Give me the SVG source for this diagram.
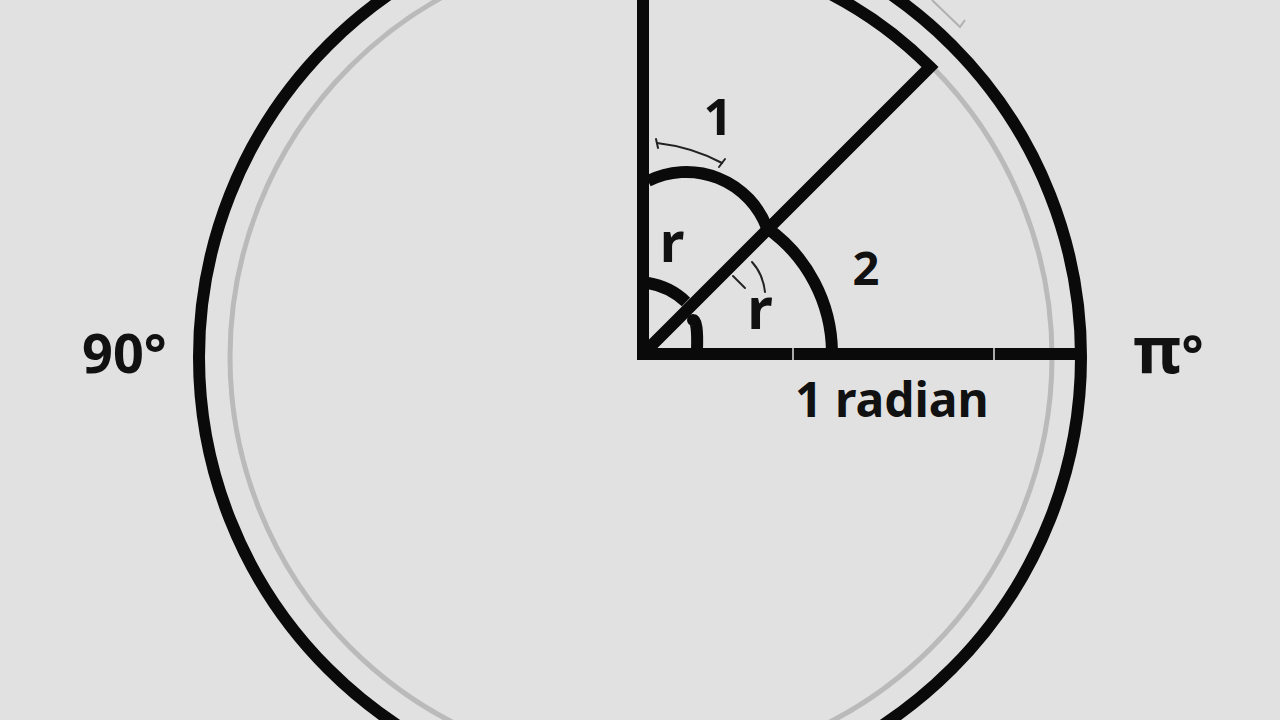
<svg xmlns="http://www.w3.org/2000/svg" width="1280" height="720" viewBox="0 0 1280 720">
<style>
.lbl{font-family:"Noto Sans","Open Sans","DejaVu Sans",sans-serif;font-weight:700;fill:#111;}
.thick{fill:none;stroke:#0a0a0a;stroke-width:12;}
.thin{fill:none;stroke:#222;stroke-width:2;stroke-linecap:round;}
</style>
<rect width="1280" height="720" fill="#e1e1e1"/>
<g id="gray-circle">
<circle cx="641" cy="357" r="411" fill="none" stroke="#bababa" stroke-width="5"/>
<polyline points="932,0 960,27 965,20" fill="none" stroke="#b0b0b0" stroke-width="2"/>
</g>
<g id="outer-circle">
<circle cx="640" cy="357" r="441" class="thick" stroke-width="13"/>
</g>
<g id="sector">
<path d="M643,354 L930,67 A406 406 0 0 0 643,-52 L643,354" class="thick" stroke-linejoin="miter"/>
<path d="M637,354 L1082,354" class="thick"/>
<path d="M793,347 L793,361 M994,347 L994,361" stroke="#e1e1e1" stroke-width="1.5"/>
</g>
<g id="arcs">
<path d="M648,181 A86 86 0 0 1 767,228" class="thick" stroke-width="11"/>
<path d="M767,228 A154 154 0 0 1 832,352" class="thick" stroke-width="11"/>
<path d="M648,283 A71 71 0 0 1 686,302" class="thick" stroke-width="11"/>
<path d="M693,320 Q698,320 697,350" class="thick" stroke-width="10" stroke-linecap="round"/>
</g>
<g id="annotations">
<path d="M657,143 Q692,147 722,163" class="thin"/>
<path d="M656,139 L658,148 M719,167 L725,159" class="thin"/>
<path d="M733,276 L745,288" class="thin" stroke-width="2.5"/>
<path d="M752,262 Q763,274 765,292" class="thin" stroke-width="2.5"/>
</g>
<g id="labels">
<text class="lbl" x="718" y="135" font-size="51" text-anchor="middle">1</text>
<text class="lbl" x="866" y="285" font-size="47" text-anchor="middle">2</text>
<text class="lbl" x="672" y="262" font-size="55" text-anchor="middle">r</text>
<text class="lbl" x="760" y="329" font-size="57" text-anchor="middle">r</text>
<text class="lbl" x="82" y="373" font-size="54">90°</text>
<text class="lbl" x="1133" y="373" font-size="52"><tspan font-size="65">π</tspan>°</text>
<text class="lbl" x="795" y="417" font-size="48">1 radian</text>
</g>
</svg>
